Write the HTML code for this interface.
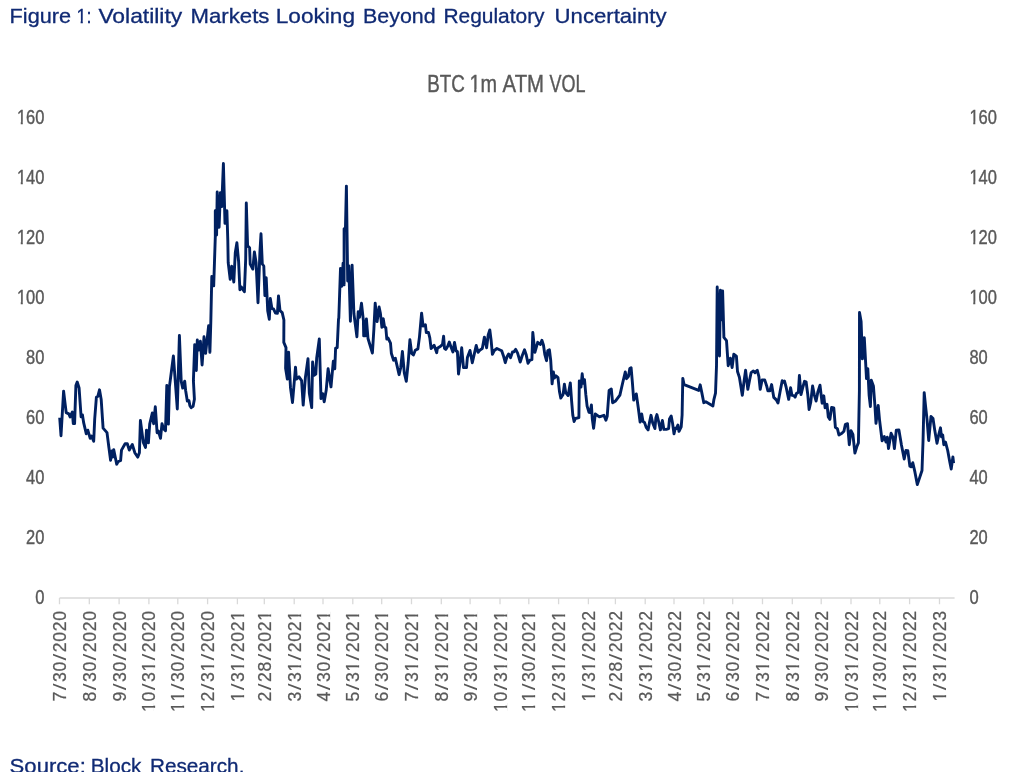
<!DOCTYPE html>
<html lang="en"><head><meta charset="utf-8"><title>Figure 1: Volatility Markets Looking Beyond Regulatory Uncertainty</title>
<style>html,body{margin:0;padding:0;background:#fff;}body{width:1030px;height:772px;overflow:hidden;position:relative;font-family:"Liberation Sans",sans-serif;}svg{display:block;position:absolute;left:0;top:0;}text{font-family:"Liberation Sans",sans-serif;}</style></head><body>
<svg width="1030" height="772" viewBox="0 0 1030 772">
<rect width="1030" height="772" fill="#fff"/>
<g font-size="20.7" fill="#102a74" stroke="#102a74" stroke-width="0.3">
<text y="23"><tspan x="9.60" textLength="61.40" lengthAdjust="spacingAndGlyphs">Figure</tspan> <tspan x="76.40" textLength="15.00" lengthAdjust="spacingAndGlyphs">1:</tspan> <tspan x="98.40" textLength="83.80" lengthAdjust="spacingAndGlyphs">Volatility</tspan> <tspan x="190.60" textLength="78.80" lengthAdjust="spacingAndGlyphs">Markets</tspan> <tspan x="275.80" textLength="79.20" lengthAdjust="spacingAndGlyphs">Looking</tspan> <tspan x="363.00" textLength="72.60" lengthAdjust="spacingAndGlyphs">Beyond</tspan> <tspan x="443.40" textLength="101.20" lengthAdjust="spacingAndGlyphs">Regulatory</tspan> <tspan x="554.60" textLength="112.00" lengthAdjust="spacingAndGlyphs">Uncertainty</tspan></text>
<text y="773"><tspan x="9.60" textLength="76.20" lengthAdjust="spacingAndGlyphs">Source:</tspan> <tspan x="90.80" textLength="50.60" lengthAdjust="spacingAndGlyphs">Block</tspan> <tspan x="150.00" textLength="94.40" lengthAdjust="spacingAndGlyphs">Research.</tspan></text>
</g>
<g font-size="23.2" fill="#595959" stroke="#595959" stroke-width="0.4">
<text y="92"><tspan x="427.20" textLength="37.60" lengthAdjust="spacingAndGlyphs">BTC</tspan> <tspan x="469.40" textLength="27.60" lengthAdjust="spacingAndGlyphs">1m</tspan> <tspan x="502.60" textLength="41.40" lengthAdjust="spacingAndGlyphs">ATM</tspan> <tspan x="549.60" textLength="36.00" lengthAdjust="spacingAndGlyphs">VOL</tspan></text>
</g>
<text x="16.9" y="124.2" font-size="20" fill="#595959" stroke="#595959" stroke-width="0.4" textLength="27.5" lengthAdjust="spacingAndGlyphs">160</text>
<text x="969.4" y="124.2" font-size="20" fill="#595959" stroke="#595959" stroke-width="0.4" textLength="27.5" lengthAdjust="spacingAndGlyphs">160</text>
<text x="16.9" y="184.2" font-size="20" fill="#595959" stroke="#595959" stroke-width="0.4" textLength="27.5" lengthAdjust="spacingAndGlyphs">140</text>
<text x="969.4" y="184.2" font-size="20" fill="#595959" stroke="#595959" stroke-width="0.4" textLength="27.5" lengthAdjust="spacingAndGlyphs">140</text>
<text x="16.9" y="244.2" font-size="20" fill="#595959" stroke="#595959" stroke-width="0.4" textLength="27.5" lengthAdjust="spacingAndGlyphs">120</text>
<text x="969.4" y="244.2" font-size="20" fill="#595959" stroke="#595959" stroke-width="0.4" textLength="27.5" lengthAdjust="spacingAndGlyphs">120</text>
<text x="16.9" y="304.2" font-size="20" fill="#595959" stroke="#595959" stroke-width="0.4" textLength="27.5" lengthAdjust="spacingAndGlyphs">100</text>
<text x="969.4" y="304.2" font-size="20" fill="#595959" stroke="#595959" stroke-width="0.4" textLength="27.5" lengthAdjust="spacingAndGlyphs">100</text>
<text x="26.1" y="364.2" font-size="20" fill="#595959" stroke="#595959" stroke-width="0.4" textLength="18.3" lengthAdjust="spacingAndGlyphs">80</text>
<text x="969.4" y="364.2" font-size="20" fill="#595959" stroke="#595959" stroke-width="0.4" textLength="18.3" lengthAdjust="spacingAndGlyphs">80</text>
<text x="26.1" y="424.2" font-size="20" fill="#595959" stroke="#595959" stroke-width="0.4" textLength="18.3" lengthAdjust="spacingAndGlyphs">60</text>
<text x="969.4" y="424.2" font-size="20" fill="#595959" stroke="#595959" stroke-width="0.4" textLength="18.3" lengthAdjust="spacingAndGlyphs">60</text>
<text x="26.1" y="484.2" font-size="20" fill="#595959" stroke="#595959" stroke-width="0.4" textLength="18.3" lengthAdjust="spacingAndGlyphs">40</text>
<text x="969.4" y="484.2" font-size="20" fill="#595959" stroke="#595959" stroke-width="0.4" textLength="18.3" lengthAdjust="spacingAndGlyphs">40</text>
<text x="26.1" y="544.2" font-size="20" fill="#595959" stroke="#595959" stroke-width="0.4" textLength="18.3" lengthAdjust="spacingAndGlyphs">20</text>
<text x="969.4" y="544.2" font-size="20" fill="#595959" stroke="#595959" stroke-width="0.4" textLength="18.3" lengthAdjust="spacingAndGlyphs">20</text>
<text x="35.2" y="604.2" font-size="20" fill="#595959" stroke="#595959" stroke-width="0.4" textLength="9.2" lengthAdjust="spacingAndGlyphs">0</text>
<text x="969.4" y="604.2" font-size="20" fill="#595959" stroke="#595959" stroke-width="0.4" textLength="9.2" lengthAdjust="spacingAndGlyphs">0</text>
<path d="M59.5 598.0H954.6" stroke="#d9d9d9" stroke-width="1.3" fill="none"/>
<g transform="translate(66.0 701.8) rotate(-90)" font-size="17.6" fill="#595959" stroke="#595959" stroke-width="0.25"><text x="0.36">7</text><text transform="translate(14.93 0) scale(1.4 1)" text-anchor="middle" stroke="none">/</text><text x="19.71 30.21">30</text><text transform="translate(44.78 0) scale(1.4 1)" text-anchor="middle" stroke="none">/</text><text x="49.56 60.06 70.56 81.06">2020</text></g>
<g transform="translate(95.8 701.8) rotate(-90)" font-size="17.6" fill="#595959" stroke="#595959" stroke-width="0.25"><text x="0.36">8</text><text transform="translate(14.93 0) scale(1.4 1)" text-anchor="middle" stroke="none">/</text><text x="19.71 30.21">30</text><text transform="translate(44.78 0) scale(1.4 1)" text-anchor="middle" stroke="none">/</text><text x="49.56 60.06 70.56 81.06">2020</text></g>
<g transform="translate(125.6 701.8) rotate(-90)" font-size="17.6" fill="#595959" stroke="#595959" stroke-width="0.25"><text x="0.36">9</text><text transform="translate(14.93 0) scale(1.4 1)" text-anchor="middle" stroke="none">/</text><text x="19.71 30.21">30</text><text transform="translate(44.78 0) scale(1.4 1)" text-anchor="middle" stroke="none">/</text><text x="49.56 60.06 70.56 81.06">2020</text></g>
<g transform="translate(155.4 712.3) rotate(-90)" font-size="17.6" fill="#595959" stroke="#595959" stroke-width="0.25"><text x="0.36 10.86">10</text><text transform="translate(25.43 0) scale(1.4 1)" text-anchor="middle" stroke="none">/</text><text x="30.21 40.71">31</text><text transform="translate(55.28 0) scale(1.4 1)" text-anchor="middle" stroke="none">/</text><text x="60.06 70.56 81.06 91.56">2020</text></g>
<g transform="translate(184.3 712.3) rotate(-90)" font-size="17.6" fill="#595959" stroke="#595959" stroke-width="0.25"><text x="0.36 10.86">11</text><text transform="translate(25.43 0) scale(1.4 1)" text-anchor="middle" stroke="none">/</text><text x="30.21 40.71">30</text><text transform="translate(55.28 0) scale(1.4 1)" text-anchor="middle" stroke="none">/</text><text x="60.06 70.56 81.06 91.56">2020</text></g>
<g transform="translate(214.1 712.3) rotate(-90)" font-size="17.6" fill="#595959" stroke="#595959" stroke-width="0.25"><text x="0.36 10.86">12</text><text transform="translate(25.43 0) scale(1.4 1)" text-anchor="middle" stroke="none">/</text><text x="30.21 40.71">31</text><text transform="translate(55.28 0) scale(1.4 1)" text-anchor="middle" stroke="none">/</text><text x="60.06 70.56 81.06 91.56">2020</text></g>
<g transform="translate(243.9 701.8) rotate(-90)" font-size="17.6" fill="#595959" stroke="#595959" stroke-width="0.25"><text x="0.36">1</text><text transform="translate(14.93 0) scale(1.4 1)" text-anchor="middle" stroke="none">/</text><text x="19.71 30.21">31</text><text transform="translate(44.78 0) scale(1.4 1)" text-anchor="middle" stroke="none">/</text><text x="49.56 60.06 70.56 81.06">2021</text></g>
<g transform="translate(270.8 701.8) rotate(-90)" font-size="17.6" fill="#595959" stroke="#595959" stroke-width="0.25"><text x="0.36">2</text><text transform="translate(14.93 0) scale(1.4 1)" text-anchor="middle" stroke="none">/</text><text x="19.71 30.21">28</text><text transform="translate(44.78 0) scale(1.4 1)" text-anchor="middle" stroke="none">/</text><text x="49.56 60.06 70.56 81.06">2021</text></g>
<g transform="translate(300.7 701.8) rotate(-90)" font-size="17.6" fill="#595959" stroke="#595959" stroke-width="0.25"><text x="0.36">3</text><text transform="translate(14.93 0) scale(1.4 1)" text-anchor="middle" stroke="none">/</text><text x="19.71 30.21">31</text><text transform="translate(44.78 0) scale(1.4 1)" text-anchor="middle" stroke="none">/</text><text x="49.56 60.06 70.56 81.06">2021</text></g>
<g transform="translate(329.5 701.8) rotate(-90)" font-size="17.6" fill="#595959" stroke="#595959" stroke-width="0.25"><text x="0.36">4</text><text transform="translate(14.93 0) scale(1.4 1)" text-anchor="middle" stroke="none">/</text><text x="19.71 30.21">30</text><text transform="translate(44.78 0) scale(1.4 1)" text-anchor="middle" stroke="none">/</text><text x="49.56 60.06 70.56 81.06">2021</text></g>
<g transform="translate(359.3 701.8) rotate(-90)" font-size="17.6" fill="#595959" stroke="#595959" stroke-width="0.25"><text x="0.36">5</text><text transform="translate(14.93 0) scale(1.4 1)" text-anchor="middle" stroke="none">/</text><text x="19.71 30.21">31</text><text transform="translate(44.78 0) scale(1.4 1)" text-anchor="middle" stroke="none">/</text><text x="49.56 60.06 70.56 81.06">2021</text></g>
<g transform="translate(388.2 701.8) rotate(-90)" font-size="17.6" fill="#595959" stroke="#595959" stroke-width="0.25"><text x="0.36">6</text><text transform="translate(14.93 0) scale(1.4 1)" text-anchor="middle" stroke="none">/</text><text x="19.71 30.21">30</text><text transform="translate(44.78 0) scale(1.4 1)" text-anchor="middle" stroke="none">/</text><text x="49.56 60.06 70.56 81.06">2021</text></g>
<g transform="translate(418.0 701.8) rotate(-90)" font-size="17.6" fill="#595959" stroke="#595959" stroke-width="0.25"><text x="0.36">7</text><text transform="translate(14.93 0) scale(1.4 1)" text-anchor="middle" stroke="none">/</text><text x="19.71 30.21">31</text><text transform="translate(44.78 0) scale(1.4 1)" text-anchor="middle" stroke="none">/</text><text x="49.56 60.06 70.56 81.06">2021</text></g>
<g transform="translate(447.8 701.8) rotate(-90)" font-size="17.6" fill="#595959" stroke="#595959" stroke-width="0.25"><text x="0.36">8</text><text transform="translate(14.93 0) scale(1.4 1)" text-anchor="middle" stroke="none">/</text><text x="19.71 30.21">31</text><text transform="translate(44.78 0) scale(1.4 1)" text-anchor="middle" stroke="none">/</text><text x="49.56 60.06 70.56 81.06">2021</text></g>
<g transform="translate(476.6 701.8) rotate(-90)" font-size="17.6" fill="#595959" stroke="#595959" stroke-width="0.25"><text x="0.36">9</text><text transform="translate(14.93 0) scale(1.4 1)" text-anchor="middle" stroke="none">/</text><text x="19.71 30.21">30</text><text transform="translate(44.78 0) scale(1.4 1)" text-anchor="middle" stroke="none">/</text><text x="49.56 60.06 70.56 81.06">2021</text></g>
<g transform="translate(506.5 712.3) rotate(-90)" font-size="17.6" fill="#595959" stroke="#595959" stroke-width="0.25"><text x="0.36 10.86">10</text><text transform="translate(25.43 0) scale(1.4 1)" text-anchor="middle" stroke="none">/</text><text x="30.21 40.71">31</text><text transform="translate(55.28 0) scale(1.4 1)" text-anchor="middle" stroke="none">/</text><text x="60.06 70.56 81.06 91.56">2021</text></g>
<g transform="translate(535.3 712.3) rotate(-90)" font-size="17.6" fill="#595959" stroke="#595959" stroke-width="0.25"><text x="0.36 10.86">11</text><text transform="translate(25.43 0) scale(1.4 1)" text-anchor="middle" stroke="none">/</text><text x="30.21 40.71">30</text><text transform="translate(55.28 0) scale(1.4 1)" text-anchor="middle" stroke="none">/</text><text x="60.06 70.56 81.06 91.56">2021</text></g>
<g transform="translate(565.1 712.3) rotate(-90)" font-size="17.6" fill="#595959" stroke="#595959" stroke-width="0.25"><text x="0.36 10.86">12</text><text transform="translate(25.43 0) scale(1.4 1)" text-anchor="middle" stroke="none">/</text><text x="30.21 40.71">31</text><text transform="translate(55.28 0) scale(1.4 1)" text-anchor="middle" stroke="none">/</text><text x="60.06 70.56 81.06 91.56">2021</text></g>
<g transform="translate(594.9 701.8) rotate(-90)" font-size="17.6" fill="#595959" stroke="#595959" stroke-width="0.25"><text x="0.36">1</text><text transform="translate(14.93 0) scale(1.4 1)" text-anchor="middle" stroke="none">/</text><text x="19.71 30.21">31</text><text transform="translate(44.78 0) scale(1.4 1)" text-anchor="middle" stroke="none">/</text><text x="49.56 60.06 70.56 81.06">2022</text></g>
<g transform="translate(621.9 701.8) rotate(-90)" font-size="17.6" fill="#595959" stroke="#595959" stroke-width="0.25"><text x="0.36">2</text><text transform="translate(14.93 0) scale(1.4 1)" text-anchor="middle" stroke="none">/</text><text x="19.71 30.21">28</text><text transform="translate(44.78 0) scale(1.4 1)" text-anchor="middle" stroke="none">/</text><text x="49.56 60.06 70.56 81.06">2022</text></g>
<g transform="translate(651.7 701.8) rotate(-90)" font-size="17.6" fill="#595959" stroke="#595959" stroke-width="0.25"><text x="0.36">3</text><text transform="translate(14.93 0) scale(1.4 1)" text-anchor="middle" stroke="none">/</text><text x="19.71 30.21">31</text><text transform="translate(44.78 0) scale(1.4 1)" text-anchor="middle" stroke="none">/</text><text x="49.56 60.06 70.56 81.06">2022</text></g>
<g transform="translate(680.5 701.8) rotate(-90)" font-size="17.6" fill="#595959" stroke="#595959" stroke-width="0.25"><text x="0.36">4</text><text transform="translate(14.93 0) scale(1.4 1)" text-anchor="middle" stroke="none">/</text><text x="19.71 30.21">30</text><text transform="translate(44.78 0) scale(1.4 1)" text-anchor="middle" stroke="none">/</text><text x="49.56 60.06 70.56 81.06">2022</text></g>
<g transform="translate(710.3 701.8) rotate(-90)" font-size="17.6" fill="#595959" stroke="#595959" stroke-width="0.25"><text x="0.36">5</text><text transform="translate(14.93 0) scale(1.4 1)" text-anchor="middle" stroke="none">/</text><text x="19.71 30.21">31</text><text transform="translate(44.78 0) scale(1.4 1)" text-anchor="middle" stroke="none">/</text><text x="49.56 60.06 70.56 81.06">2022</text></g>
<g transform="translate(739.2 701.8) rotate(-90)" font-size="17.6" fill="#595959" stroke="#595959" stroke-width="0.25"><text x="0.36">6</text><text transform="translate(14.93 0) scale(1.4 1)" text-anchor="middle" stroke="none">/</text><text x="19.71 30.21">30</text><text transform="translate(44.78 0) scale(1.4 1)" text-anchor="middle" stroke="none">/</text><text x="49.56 60.06 70.56 81.06">2022</text></g>
<g transform="translate(769.0 701.8) rotate(-90)" font-size="17.6" fill="#595959" stroke="#595959" stroke-width="0.25"><text x="0.36">7</text><text transform="translate(14.93 0) scale(1.4 1)" text-anchor="middle" stroke="none">/</text><text x="19.71 30.21">31</text><text transform="translate(44.78 0) scale(1.4 1)" text-anchor="middle" stroke="none">/</text><text x="49.56 60.06 70.56 81.06">2022</text></g>
<g transform="translate(798.8 701.8) rotate(-90)" font-size="17.6" fill="#595959" stroke="#595959" stroke-width="0.25"><text x="0.36">8</text><text transform="translate(14.93 0) scale(1.4 1)" text-anchor="middle" stroke="none">/</text><text x="19.71 30.21">31</text><text transform="translate(44.78 0) scale(1.4 1)" text-anchor="middle" stroke="none">/</text><text x="49.56 60.06 70.56 81.06">2022</text></g>
<g transform="translate(827.7 701.8) rotate(-90)" font-size="17.6" fill="#595959" stroke="#595959" stroke-width="0.25"><text x="0.36">9</text><text transform="translate(14.93 0) scale(1.4 1)" text-anchor="middle" stroke="none">/</text><text x="19.71 30.21">30</text><text transform="translate(44.78 0) scale(1.4 1)" text-anchor="middle" stroke="none">/</text><text x="49.56 60.06 70.56 81.06">2022</text></g>
<g transform="translate(857.5 712.3) rotate(-90)" font-size="17.6" fill="#595959" stroke="#595959" stroke-width="0.25"><text x="0.36 10.86">10</text><text transform="translate(25.43 0) scale(1.4 1)" text-anchor="middle" stroke="none">/</text><text x="30.21 40.71">31</text><text transform="translate(55.28 0) scale(1.4 1)" text-anchor="middle" stroke="none">/</text><text x="60.06 70.56 81.06 91.56">2022</text></g>
<g transform="translate(886.3 712.3) rotate(-90)" font-size="17.6" fill="#595959" stroke="#595959" stroke-width="0.25"><text x="0.36 10.86">11</text><text transform="translate(25.43 0) scale(1.4 1)" text-anchor="middle" stroke="none">/</text><text x="30.21 40.71">30</text><text transform="translate(55.28 0) scale(1.4 1)" text-anchor="middle" stroke="none">/</text><text x="60.06 70.56 81.06 91.56">2022</text></g>
<g transform="translate(916.1 712.3) rotate(-90)" font-size="17.6" fill="#595959" stroke="#595959" stroke-width="0.25"><text x="0.36 10.86">12</text><text transform="translate(25.43 0) scale(1.4 1)" text-anchor="middle" stroke="none">/</text><text x="30.21 40.71">31</text><text transform="translate(55.28 0) scale(1.4 1)" text-anchor="middle" stroke="none">/</text><text x="60.06 70.56 81.06 91.56">2022</text></g>
<g transform="translate(946.0 701.8) rotate(-90)" font-size="17.6" fill="#595959" stroke="#595959" stroke-width="0.25"><text x="0.36">1</text><text transform="translate(14.93 0) scale(1.4 1)" text-anchor="middle" stroke="none">/</text><text x="19.71 30.21">31</text><text transform="translate(44.78 0) scale(1.4 1)" text-anchor="middle" stroke="none">/</text><text x="49.56 60.06 70.56 81.06">2023</text></g>
<path d="M59.5 598.0v6.3M89.3 598.0v6.3M119.1 598.0v6.3M148.9 598.0v6.3M177.8 598.0v6.3M207.6 598.0v6.3M237.4 598.0v6.3M264.3 598.0v6.3M294.2 598.0v6.3M323.0 598.0v6.3M352.8 598.0v6.3M381.7 598.0v6.3M411.5 598.0v6.3M441.3 598.0v6.3M470.1 598.0v6.3M500.0 598.0v6.3M528.8 598.0v6.3M558.6 598.0v6.3M588.4 598.0v6.3M615.4 598.0v6.3M645.2 598.0v6.3M674.0 598.0v6.3M703.8 598.0v6.3M732.7 598.0v6.3M762.5 598.0v6.3M792.3 598.0v6.3M821.2 598.0v6.3M851.0 598.0v6.3M879.8 598.0v6.3M909.6 598.0v6.3M939.5 598.0v6.3" stroke="#d9d9d9" stroke-width="1.3" fill="none"/>
<g><rect x="76.77" y="20.45" width="3.85" height="3.55" fill="#fff"/><rect x="82.81" y="20.45" width="3.71" height="3.55" fill="#fff"/><rect x="469.91" y="89.27" width="4.18" height="3.73" fill="#fff"/><rect x="476.45" y="89.27" width="4.03" height="3.73" fill="#fff"/><rect x="17.16" y="121.71" width="3.59" height="3.49" fill="#fff"/><rect x="22.80" y="121.71" width="3.46" height="3.49" fill="#fff"/><rect x="969.66" y="121.71" width="3.59" height="3.49" fill="#fff"/><rect x="975.30" y="121.71" width="3.46" height="3.49" fill="#fff"/><rect x="17.16" y="181.71" width="3.59" height="3.49" fill="#fff"/><rect x="22.80" y="181.71" width="3.46" height="3.49" fill="#fff"/><rect x="969.66" y="181.71" width="3.59" height="3.49" fill="#fff"/><rect x="975.30" y="181.71" width="3.46" height="3.49" fill="#fff"/><rect x="17.16" y="241.71" width="3.59" height="3.49" fill="#fff"/><rect x="22.80" y="241.71" width="3.46" height="3.49" fill="#fff"/><rect x="969.66" y="241.71" width="3.59" height="3.49" fill="#fff"/><rect x="975.30" y="241.71" width="3.46" height="3.49" fill="#fff"/><rect x="17.16" y="301.71" width="3.59" height="3.49" fill="#fff"/><rect x="22.80" y="301.71" width="3.46" height="3.49" fill="#fff"/><rect x="969.66" y="301.71" width="3.59" height="3.49" fill="#fff"/><rect x="975.30" y="301.71" width="3.46" height="3.49" fill="#fff"/><g transform="translate(155.4 712.3) rotate(-90)"><rect x="0.70" y="-2.31" width="3.79" height="3.31" fill="#fff"/><rect x="6.64" y="-2.31" width="3.65" height="3.31" fill="#fff"/><rect x="41.05" y="-2.31" width="3.79" height="3.31" fill="#fff"/><rect x="46.99" y="-2.31" width="3.65" height="3.31" fill="#fff"/></g><g transform="translate(184.3 712.3) rotate(-90)"><rect x="0.70" y="-2.31" width="3.79" height="3.31" fill="#fff"/><rect x="6.64" y="-2.31" width="3.65" height="3.31" fill="#fff"/><rect x="11.20" y="-2.31" width="3.79" height="3.31" fill="#fff"/><rect x="17.14" y="-2.31" width="3.65" height="3.31" fill="#fff"/></g><g transform="translate(214.1 712.3) rotate(-90)"><rect x="0.70" y="-2.31" width="3.79" height="3.31" fill="#fff"/><rect x="6.64" y="-2.31" width="3.65" height="3.31" fill="#fff"/><rect x="41.05" y="-2.31" width="3.79" height="3.31" fill="#fff"/><rect x="46.99" y="-2.31" width="3.65" height="3.31" fill="#fff"/></g><g transform="translate(243.9 701.8) rotate(-90)"><rect x="0.70" y="-2.31" width="3.79" height="3.31" fill="#fff"/><rect x="6.64" y="-2.31" width="3.65" height="3.31" fill="#fff"/><rect x="30.55" y="-2.31" width="3.79" height="3.31" fill="#fff"/><rect x="36.49" y="-2.31" width="3.65" height="3.31" fill="#fff"/><rect x="81.40" y="-2.31" width="3.79" height="3.31" fill="#fff"/><rect x="87.34" y="-2.31" width="3.65" height="3.31" fill="#fff"/></g><g transform="translate(270.8 701.8) rotate(-90)"><rect x="81.40" y="-2.31" width="3.79" height="3.31" fill="#fff"/><rect x="87.34" y="-2.31" width="3.65" height="3.31" fill="#fff"/></g><g transform="translate(300.7 701.8) rotate(-90)"><rect x="30.55" y="-2.31" width="3.79" height="3.31" fill="#fff"/><rect x="36.49" y="-2.31" width="3.65" height="3.31" fill="#fff"/><rect x="81.40" y="-2.31" width="3.79" height="3.31" fill="#fff"/><rect x="87.34" y="-2.31" width="3.65" height="3.31" fill="#fff"/></g><g transform="translate(329.5 701.8) rotate(-90)"><rect x="81.40" y="-2.31" width="3.79" height="3.31" fill="#fff"/><rect x="87.34" y="-2.31" width="3.65" height="3.31" fill="#fff"/></g><g transform="translate(359.3 701.8) rotate(-90)"><rect x="30.55" y="-2.31" width="3.79" height="3.31" fill="#fff"/><rect x="36.49" y="-2.31" width="3.65" height="3.31" fill="#fff"/><rect x="81.40" y="-2.31" width="3.79" height="3.31" fill="#fff"/><rect x="87.34" y="-2.31" width="3.65" height="3.31" fill="#fff"/></g><g transform="translate(388.2 701.8) rotate(-90)"><rect x="81.40" y="-2.31" width="3.79" height="3.31" fill="#fff"/><rect x="87.34" y="-2.31" width="3.65" height="3.31" fill="#fff"/></g><g transform="translate(418.0 701.8) rotate(-90)"><rect x="30.55" y="-2.31" width="3.79" height="3.31" fill="#fff"/><rect x="36.49" y="-2.31" width="3.65" height="3.31" fill="#fff"/><rect x="81.40" y="-2.31" width="3.79" height="3.31" fill="#fff"/><rect x="87.34" y="-2.31" width="3.65" height="3.31" fill="#fff"/></g><g transform="translate(447.8 701.8) rotate(-90)"><rect x="30.55" y="-2.31" width="3.79" height="3.31" fill="#fff"/><rect x="36.49" y="-2.31" width="3.65" height="3.31" fill="#fff"/><rect x="81.40" y="-2.31" width="3.79" height="3.31" fill="#fff"/><rect x="87.34" y="-2.31" width="3.65" height="3.31" fill="#fff"/></g><g transform="translate(476.6 701.8) rotate(-90)"><rect x="81.40" y="-2.31" width="3.79" height="3.31" fill="#fff"/><rect x="87.34" y="-2.31" width="3.65" height="3.31" fill="#fff"/></g><g transform="translate(506.5 712.3) rotate(-90)"><rect x="0.70" y="-2.31" width="3.79" height="3.31" fill="#fff"/><rect x="6.64" y="-2.31" width="3.65" height="3.31" fill="#fff"/><rect x="41.05" y="-2.31" width="3.79" height="3.31" fill="#fff"/><rect x="46.99" y="-2.31" width="3.65" height="3.31" fill="#fff"/><rect x="91.90" y="-2.31" width="3.79" height="3.31" fill="#fff"/><rect x="97.84" y="-2.31" width="3.65" height="3.31" fill="#fff"/></g><g transform="translate(535.3 712.3) rotate(-90)"><rect x="0.70" y="-2.31" width="3.79" height="3.31" fill="#fff"/><rect x="6.64" y="-2.31" width="3.65" height="3.31" fill="#fff"/><rect x="11.20" y="-2.31" width="3.79" height="3.31" fill="#fff"/><rect x="17.14" y="-2.31" width="3.65" height="3.31" fill="#fff"/><rect x="91.90" y="-2.31" width="3.79" height="3.31" fill="#fff"/><rect x="97.84" y="-2.31" width="3.65" height="3.31" fill="#fff"/></g><g transform="translate(565.1 712.3) rotate(-90)"><rect x="0.70" y="-2.31" width="3.79" height="3.31" fill="#fff"/><rect x="6.64" y="-2.31" width="3.65" height="3.31" fill="#fff"/><rect x="41.05" y="-2.31" width="3.79" height="3.31" fill="#fff"/><rect x="46.99" y="-2.31" width="3.65" height="3.31" fill="#fff"/><rect x="91.90" y="-2.31" width="3.79" height="3.31" fill="#fff"/><rect x="97.84" y="-2.31" width="3.65" height="3.31" fill="#fff"/></g><g transform="translate(594.9 701.8) rotate(-90)"><rect x="0.70" y="-2.31" width="3.79" height="3.31" fill="#fff"/><rect x="6.64" y="-2.31" width="3.65" height="3.31" fill="#fff"/><rect x="30.55" y="-2.31" width="3.79" height="3.31" fill="#fff"/><rect x="36.49" y="-2.31" width="3.65" height="3.31" fill="#fff"/></g><g transform="translate(651.7 701.8) rotate(-90)"><rect x="30.55" y="-2.31" width="3.79" height="3.31" fill="#fff"/><rect x="36.49" y="-2.31" width="3.65" height="3.31" fill="#fff"/></g><g transform="translate(710.3 701.8) rotate(-90)"><rect x="30.55" y="-2.31" width="3.79" height="3.31" fill="#fff"/><rect x="36.49" y="-2.31" width="3.65" height="3.31" fill="#fff"/></g><g transform="translate(769.0 701.8) rotate(-90)"><rect x="30.55" y="-2.31" width="3.79" height="3.31" fill="#fff"/><rect x="36.49" y="-2.31" width="3.65" height="3.31" fill="#fff"/></g><g transform="translate(798.8 701.8) rotate(-90)"><rect x="30.55" y="-2.31" width="3.79" height="3.31" fill="#fff"/><rect x="36.49" y="-2.31" width="3.65" height="3.31" fill="#fff"/></g><g transform="translate(857.5 712.3) rotate(-90)"><rect x="0.70" y="-2.31" width="3.79" height="3.31" fill="#fff"/><rect x="6.64" y="-2.31" width="3.65" height="3.31" fill="#fff"/><rect x="41.05" y="-2.31" width="3.79" height="3.31" fill="#fff"/><rect x="46.99" y="-2.31" width="3.65" height="3.31" fill="#fff"/></g><g transform="translate(886.3 712.3) rotate(-90)"><rect x="0.70" y="-2.31" width="3.79" height="3.31" fill="#fff"/><rect x="6.64" y="-2.31" width="3.65" height="3.31" fill="#fff"/><rect x="11.20" y="-2.31" width="3.79" height="3.31" fill="#fff"/><rect x="17.14" y="-2.31" width="3.65" height="3.31" fill="#fff"/></g><g transform="translate(916.1 712.3) rotate(-90)"><rect x="0.70" y="-2.31" width="3.79" height="3.31" fill="#fff"/><rect x="6.64" y="-2.31" width="3.65" height="3.31" fill="#fff"/><rect x="41.05" y="-2.31" width="3.79" height="3.31" fill="#fff"/><rect x="46.99" y="-2.31" width="3.65" height="3.31" fill="#fff"/></g><g transform="translate(946.0 701.8) rotate(-90)"><rect x="0.70" y="-2.31" width="3.79" height="3.31" fill="#fff"/><rect x="6.64" y="-2.31" width="3.65" height="3.31" fill="#fff"/><rect x="30.55" y="-2.31" width="3.79" height="3.31" fill="#fff"/><rect x="36.49" y="-2.31" width="3.65" height="3.31" fill="#fff"/></g></g>
<path d="M59.7,417.7 61,435.7 63.6,391.1 65.3,405.4 66.2,412.6 68.8,413.9 70.1,416.9 72.3,412.1 73.3,423.6 74.6,423.6 75.9,385.4 77.2,382 79.1,388 81.1,416.9 82.4,414.7 83.7,422.9 86.3,433.8 87.8,430.2 90.2,438.3 91.5,436 93.7,441.3 94.7,419 96.4,397.2 97.9,396.2 99.5,389.8 101.2,399.6 103.1,428.1 107,432.6 108.9,447.5 110.6,460.3 111.9,450.9 112.8,457.1 113.7,449.6 116.7,464.2 118,461.8 120.6,460.5 121.5,450.1 125.1,443.7 127.3,443.8 129.3,450 132.3,444.5 134.8,452.7 137.8,457.1 139.4,452.7 140.4,420.5 143.3,442.4 145.5,447.4 146.5,430.2 148.4,442.9 149.7,424.2 152.3,413 153.6,423.7 155.3,406.8 157.1,432.7 158.4,431.1 160.5,438.3 162,423.6 163.7,429 165.5,430.8 166.8,385.5 168.4,424.1 169.4,386.9 173.4,356 177.3,409 179.4,335.5 181.2,381.1 182.7,388.1 184.7,381.2 185.6,390.2 187.3,401 189,400.7 189.9,405.7 191.2,407.7 193.1,406.3 194.4,399.2 193.4,380.7 194.7,344.6 196.3,370.5 197.3,340 198.9,350.1 200.4,341.3 202.1,365 204,336.8 205.6,353.3 208.6,325.8 209.9,352.4 210.8,322.4 211.8,276.5 213.7,285.9 215.3,236.8 215.3,210.7 216.6,235.1 217.2,192 219.1,227.3 220.4,192.6 221.7,206.6 223.4,163.5 225,223.4 226.9,210.7 227.8,240 228.2,262.7 230.2,279.4 231.7,266.1 233.8,282 235.3,252.4 236.9,242.8 238.6,261.5 239.9,289.8 241.2,286.9 244.4,291.7 245.7,258.9 246.3,203 247.6,245.9 249.6,247.8 250.2,264 252.8,269.1 254.4,251.9 256.1,262.7 258,302.7 259.9,252.4 261,233.8 262.3,264 263.8,266 264.9,295.6 266.2,277.8 267.7,310.7 269.3,319.3 270.3,298.5 271.9,308.6 273.5,308.9 275.5,313.1 277.4,313.3 278.5,295.9 280,310.7 282.2,312.6 283.9,320 283.8,342.4 286,347.6 285.6,368.3 287.3,379.1 288.6,352.3 290.5,387.7 292.5,402.5 295.5,367.1 296.4,379.1 299,376.9 301.6,380.6 303.2,405.1 305.4,377.4 308,358.7 309.3,392.9 311.7,407.6 312.6,362 314.1,375.3 315.8,374.1 316.7,357.9 319.3,339 321,398.6 322.7,393.7 324.2,401.8 326.2,390.3 328.1,368.8 331,386.9 333.3,361.3 334.8,368.8 335.6,348.2 337.2,347.6 338.5,319.1 338.8,318.1 340.5,268.4 341.8,286.2 343.1,263.2 344.1,284.9 344.1,228.8 345.4,230.2 346.4,186.1 347.7,281 348.8,265.8 350.4,321.2 352.1,265.1 353.9,313.5 356.9,336.7 358.2,311.8 359.5,317.3 361.5,303.3 363.4,320.7 363.7,335.9 365.3,335.8 366.4,318.9 368,338.5 372.4,353 373.9,328.9 375.2,303.1 377.1,321.6 379.1,307 380.4,313.3 381.9,327.4 383.2,318.6 384.5,326.8 385.8,327.7 386.8,339.1 388.1,338.1 390.5,343.1 391.4,353.5 393.6,360.2 395.3,358.2 397.2,366.4 399.1,374.7 400.7,367.7 402.4,351.4 404.3,372.9 406.3,381.4 408.2,362.5 409.9,339.8 411.7,353.5 413.4,355 415.3,350.2 417.9,348.9 419.5,336.6 421.6,313.1 423.1,326.1 425.4,324.7 426.3,332.6 428.5,332.5 429.8,337.9 431.1,348.5 434.1,345.2 436.7,352.7 437.4,348.3 440.6,346.3 442.5,344.4 443.6,336.1 444.5,348.3 445.8,349.4 447.7,346.3 449.3,342 451,347 452.9,352 454.5,342.4 456.1,350.9 457.4,351.5 458.5,374 460,362.5 461.7,347.8 463.5,367.5 466.5,367.6 467.4,357.4 470,350.4 472.3,362.7 474.2,354.4 476.2,345.5 478.1,352.3 480.1,349.9 482.3,348.6 484.4,337.1 486.6,347.8 488.2,335 489.8,329.9 491.1,340.2 492.4,354.3 494.3,350.5 496.9,348.5 499.5,349.7 501.7,350.7 503.4,355.7 505.3,362.7 506.9,357 508.6,353.9 510.5,357.7 512.5,352 514.1,351.7 515.7,349.4 517.6,353.1 520.2,362 522.2,355.7 524.5,349.8 526.1,354.4 528,363.3 529.9,360.2 531.9,359.6 532.8,332.5 534.9,352.3 537.7,342.3 540.3,344.5 541.9,340.3 543.5,345.3 544.8,354.4 546.5,360.7 547.8,350.5 549.4,349.8 550.7,360.2 552.1,383.9 553.4,371.9 554.3,378.1 556,375.8 558,377.6 559.5,391.8 560.8,398.1 563.1,394.4 564.4,384.2 565.7,392.5 568.1,395.5 570.3,382.9 571.6,400.9 572.8,415.1 574.1,421.5 575.4,418.5 578.9,417.6 579.3,381 581,387.1 582.2,373.8 583.2,383.2 584.5,379.7 585.8,394.4 587.1,406.1 589,412.4 590.1,412.5 591.4,404.9 592.3,419 593.6,428.3 595.3,414 599.4,416.9 603.9,415.3 605.9,420.2 607.2,416.4 609.1,390.5 611.3,389 612.6,402.7 615.6,400.9 619.9,395.1 622.7,382.7 625.3,371.9 626.6,378.7 628.5,376.3 629.8,368.5 631.1,367.7 632.4,382.7 633.7,400.1 636.3,393.9 638.4,408.7 640.1,422.1 641.7,414 643,421.5 644.5,422.4 646.2,427.4 648.1,429.9 649.4,422.9 651,415.3 652.7,422.9 654.9,428.6 655.9,417.7 656.9,414.6 658.5,421 660.4,429.9 662.4,420.5 663.9,429.4 666.3,429.4 668.6,428.7 669.5,419 671.2,415.9 672.5,422.9 674,433.8 675.3,428.2 676.4,428.6 677.9,425 679,431.4 681.2,426.8 682.1,415.1 682.8,378.4 684.1,384.7 698.7,390.4 700.2,384.8 701.9,393.1 703.8,402.7 705.8,401.7 712.9,405.9 713.9,399.6 715.5,393.1 716.5,365.9 717.2,287 718.5,321.8 719.5,356 720.4,290.2 721.7,319.7 722.6,290.9 723.9,337.4 726.5,340.6 728.2,365.7 730.4,358.2 732.1,367.6 733.8,354.3 736.4,356.1 737.5,371.5 739.4,377.3 742.3,395.3 744,381.8 745.6,370.3 747.8,389.4 749.5,380.5 751.1,372.7 753.4,371 755,372.6 757.3,370.3 758.9,376.6 760.2,389.4 762.1,380 764.7,379.9 766.6,385.7 767.9,390.9 769.9,390.9 771.6,384.6 773.8,397.4 776.3,399.9 778,403 780.2,390.9 782.2,380.7 783.5,382.3 784.5,381.1 786.1,387 788.7,399.4 790.6,387.8 791.9,395.3 793.8,395.6 795.1,397.2 796.4,393.5 798.4,392.2 799.4,375.5 801,394.6 802.9,387 804.5,381.3 806.1,381.8 807.8,394.8 809.1,409.5 810.7,402.5 812.6,385.9 814.3,394.8 816.1,401.1 817.8,392.2 820,385.2 822.1,403.2 823.8,395.8 825.1,407.8 827,404.2 828.3,417 829.9,419.4 831.6,407.4 833.8,407.9 835.4,427.4 837.4,428.7 838.9,435 841.9,433.2 843.9,431.2 845.4,424.3 847.5,423.7 849.3,444.7 851,430.7 852.9,434.5 854.9,453.1 856.8,446.8 858.4,442.9 859.4,390.4 859.5,312.5 861.1,321.5 862.4,358.9 864.3,337.8 866.5,378.6 867.8,368.6 869.1,395 870.4,406.5 871.3,380.2 873.4,385.9 874.9,405.3 876,423.3 878.2,405.5 879.5,419.6 882.1,440.8 884.3,436.6 886,442.1 887.3,437.2 888.5,448.6 891.1,433.3 893.1,437.7 894.4,448.6 896.3,430.1 898.9,429.9 901.4,444.8 904.2,459 905.9,450.5 907.8,450.6 909.9,466.2 911.3,466.8 912.8,462.7 914.9,471.9 917.3,484.6 919.9,476.9 922,470.5 923,442 924.2,392.6 925.6,406.4 927,419.2 928.7,440.5 931,416.4 933,418.5 934.8,430.6 937,443.3 938.7,434.9 940.5,427.8 941.5,436.9 942.7,434.9 943.8,444.7 945.5,442.1 947.7,450.5 949.8,461.9 951.2,469 952.9,457 953.6,463.1" stroke="#002060" stroke-width="2.9" fill="none" stroke-linejoin="round" stroke-linecap="butt"/>
</svg></body></html>
